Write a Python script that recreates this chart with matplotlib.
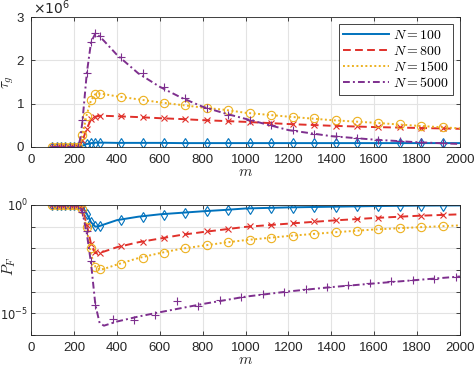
import numpy as np
import matplotlib
matplotlib.use("Agg")
import matplotlib.pyplot as plt
from matplotlib.ticker import FixedLocator

plt.rcParams['font.family'] = ['Liberation Sans', 'DejaVu Sans']
plt.rcParams['mathtext.fontset'] = 'cm'

# ---------------- data ----------------
labels = ["$N = 100$", "$N = 800$", "$N = 1500$", "$N = 5000$"]

# analytic curves
m_line = [100, 220, 230, 240, 260, 280, 300, 320, 340, 400, 500, 600, 700,
          800, 900, 1000, 1200, 1400, 1600, 1800, 2000]

tau_n100 = [0, 0, 0.01, 0.03, 0.07, 0.09, 0.10, 0.10, 0.10, 0.095, 0.095, 0.095, 0.09,
            0.09, 0.09, 0.09, 0.09, 0.09, 0.09, 0.09, 0.09]
tau_n800 = [0, 0, 0.05, 0.15, 0.42, 0.64, 0.70, 0.72, 0.72, 0.71, 0.69, 0.665, 0.645,
            0.62, 0.60, 0.58, 0.53, 0.49, 0.46, 0.44, 0.42]
tau_n1500 = [0, 0, 0.08, 0.28, 0.75, 1.08, 1.22, 1.23, 1.22, 1.17, 1.10, 1.03, 0.97,
             0.91, 0.86, 0.79, 0.70, 0.62, 0.56, 0.49, 0.43]
tau_n5000 = [0, 0, 0.2, 0.6, 1.7, 2.42, 2.62, 2.55, 2.45, 2.13, 1.70, 1.39, 1.14,
             0.93, 0.78, 0.65, 0.39, 0.25, 0.17, 0.11, 0.07]

logpf_n100 = [0, 0, -0.02, -0.08, -0.4, -0.8, -1.0, -0.97, -0.9, -0.7, -0.54, -0.43, -0.36,
              -0.29, -0.23, -0.16, -0.11, -0.08, -0.05, -0.03, -0.02]
logpf_n800 = [0, 0, -0.05, -0.2, -0.9, -1.8, -2.22, -2.2, -2.15, -1.95, -1.72, -1.55, -1.38,
              -1.25, -1.13, -1.01, -0.86, -0.72, -0.6, -0.5, -0.43]
logpf_n1500 = [0, 0, -0.05, -0.25, -1.1, -2.3, -2.85, -2.98, -2.95, -2.75, -2.45, -2.22, -2.02,
               -1.88, -1.74, -1.62, -1.43, -1.27, -1.13, -1.03, -0.94]
logpf_n5000 = [0, 0, -0.08, -0.35, -1.3, -2.7, -4.6, -5.45, -5.57, -5.38, -5.15, -4.95, -4.76,
               -4.57, -4.4, -4.23, -3.99, -3.79, -3.62, -3.46, -3.3]

# simulation markers
m_dense = [100, 120, 140, 160, 180, 200, 220, 240, 260, 280, 300, 320]
m_dense_p = [100, 120, 140, 160, 180, 200, 220, 240, 260, 280, 300]
m_sparse = [420, 520, 620, 720, 820, 920, 1020, 1120, 1220, 1320, 1420, 1520,
            1620, 1720, 1820, 1920]
m_sparse_p = [380, 480, 580, 680, 780, 880, 980, 1080, 1180, 1280, 1380, 1480,
              1580, 1680, 1780, 1880, 1980]

tau_sim_n100 = [0, 0, 0, 0, 0, 0, 0, 0.03, 0.07, 0.09, 0.10, 0.10,
                0.09, 0.09, 0.09, 0.09, 0.09, 0.09, 0.09, 0.09, 0.09, 0.09, 0.09, 0.09,
                0.09, 0.09, 0.09, 0.09]
tau_sim_n800 = [0, 0, 0, 0, 0, 0, 0, 0.15, 0.42, 0.65, 0.70, 0.72,
                0.71, 0.69, 0.66, 0.64, 0.62, 0.59, 0.57, 0.55, 0.53, 0.51, 0.49, 0.475,
                0.46, 0.45, 0.44, 0.43]
tau_sim_n1500 = [0, 0, 0, 0, 0, 0, 0, 0.28, 0.72, 1.08, 1.22, 1.23,
                 1.15, 1.08, 1.02, 0.96, 0.91, 0.85, 0.79, 0.74, 0.70, 0.66, 0.62, 0.59,
                 0.56, 0.52, 0.49, 0.46]
tau_sim_n5000 = [0, 0, 0, 0, 0, 0, 0, 0.62, 1.70, 2.43, 2.62, 2.55,
                 2.08, 1.70, 1.38, 1.12, 0.91, 0.74, 0.62, 0.50, 0.39, 0.31, 0.25, 0.21,
                 0.17, 0.13, 0.11, 0.09]

logpf_sim_n100 = [0, 0, 0, 0, 0, 0, 0, -0.05, -0.4, -0.78, -0.98, -0.97,
                  -0.68, -0.54, -0.44, -0.36, -0.29, -0.23, -0.19, -0.15, -0.12, -0.1,
                  -0.08, -0.06, -0.05, -0.04, -0.03, -0.03]
logpf_sim_n800 = [0, 0, 0, 0, 0, 0, 0, -0.15, -0.9, -1.8, -2.15, -2.2,
                  -1.9, -1.7, -1.52, -1.36, -1.22, -1.1, -0.99, -0.9, -0.83, -0.76,
                  -0.7, -0.64, -0.58, -0.53, -0.49, -0.45]
logpf_sim_n1500 = [0, 0, 0, 0, 0, 0, 0, -0.2, -1.0, -2.0, -2.86, -2.96,
                   -2.7, -2.43, -2.2, -2.0, -1.86, -1.72, -1.6, -1.5, -1.42, -1.34,
                   -1.26, -1.19, -1.12, -1.06, -1.01, -0.96]
logpf_sim_n5000 = [0, 0, 0, 0, 0, 0, 0, -0.3, -1.2, -2.6, -4.63,
                   -5.25, -5.32, -5.09, -4.44, -4.66, -4.4, -4.24, -4.09, -4.01, -3.86,
                   -3.78, -3.67, -3.6, -3.5, -3.47, -3.4, -3.32]

x_ticks = [0, 200, 400, 600, 800, 1000, 1200, 1400, 1600, 1800, 2000]

# ---------------- style ----------------
colors = ['#0072BD', '#E0302A', '#EDB120', '#7E2F8E']
lstyles = ['-', (0, (4, 2.2)), (0, (1, 1.3)), (0, (3.5, 1.6, 1, 1.6))]
markers = ['d', 'x', 'o', '+']
msizes = [5, 4.5, 6, 6]
axcol = '#262626'
gridcol = '#E3E3E3'
LW = 1.4

fig = plt.figure(figsize=(4.74, 3.70), dpi=100)
ax1 = fig.add_axes([31/474, 1-147/370, 429/474, 130/370])
ax2 = fig.add_axes([31/474, 1-335/370, 429/474, 130/370])

tau_lines = [tau_n100, tau_n800, tau_n1500, tau_n5000]
tau_sims = [tau_sim_n100, tau_sim_n800, tau_sim_n1500, tau_sim_n5000]
pf_lines = [logpf_n100, logpf_n800, logpf_n1500, logpf_n5000]
pf_sims = [logpf_sim_n100, logpf_sim_n800, logpf_sim_n1500, logpf_sim_n5000]

m_sim = list(m_dense) + list(m_sparse)
m_sim_p = list(m_dense_p) + list(m_sparse_p)

handles = []
for i in range(4):
    y = np.array(tau_lines[i]) * 1e6
    h, = ax1.plot(m_line, y, color=colors[i], linestyle=lstyles[i], lw=LW, label=labels[i])
    handles.append(h)
    ax1.plot(m_sim, np.array(tau_sims[i]) * 1e6, linestyle='none', marker=markers[i],
             ms=msizes[i], mfc='none', mec=colors[i], mew=0.8)

for i in range(4):
    ax2.plot(m_line, 10.0 ** np.array(pf_lines[i]), color=colors[i], linestyle=lstyles[i], lw=LW)
    mx = m_sim_p if i == 3 else m_sim
    ax2.plot(mx, 10.0 ** np.array(pf_sims[i]), linestyle='none', marker=markers[i],
             ms=msizes[i], mfc='none', mec=colors[i], mew=0.8)

for ax in (ax1, ax2):
    ax.set_xlim(0, 2000)
    ax.set_xticks(x_ticks)
    ax.grid(True, color=gridcol, lw=0.8)
    ax.set_axisbelow(True)
    for s in ax.spines.values():
        s.set_color(axcol)
        s.set_linewidth(0.6)
    ax.tick_params(direction='in', top=True, right=True, colors=axcol, labelsize=9.5,
                   length=3, width=0.6, pad=5)
    ax.set_xlabel('$m$', fontsize=11, color=axcol, labelpad=-1)

ax1.set_ylim(0, 3e6)
ax1.set_yticks([0, 1e6, 2e6, 3e6])
ax1.set_yticklabels(['0', '1', '2', '3'])
ax1.set_ylabel(r'$\tau_g$', fontsize=11, color=axcol)
ax1.yaxis.set_label_coords(-0.035, 0.5)
fig.text(33/474, 1-8/370, r'$\times 10^6$', fontsize=10, color=axcol, va='center', ha='left',
         math_fontfamily='dejavusans')

ax2.set_yscale('log')
ax2.set_ylim(1e-6, 1)
ax2.yaxis.set_minor_locator(FixedLocator([]))
ax2.set_yticks([1e-6, 1e-5, 1e-4, 1e-3, 1e-2, 1e-1, 1])
ax2.set_yticklabels(['', '$10^{-5}$', '', '', '', '', '$10^{0}$'])
ax2.tick_params(axis='y', pad=2)
ax2.set_ylabel('$P_F$', fontsize=11, color=axcol)
ax2.yaxis.set_label_coords(-0.03, 0.53)
for lab in ax2.get_yticklabels():
    lab.set_fontsize(8.3)
    lab.set_math_fontfamily('dejavusans')

leg = ax1.legend(handles=handles, loc='upper right', fontsize=10, frameon=True, fancybox=False,
                 edgecolor=axcol, framealpha=1, borderpad=0.3, labelspacing=0.15,
                 handlelength=3.3, handletextpad=0.3, borderaxespad=0.5)
leg.get_frame().set_linewidth(0.6)

fig.savefig('out.png', dpi=100)
